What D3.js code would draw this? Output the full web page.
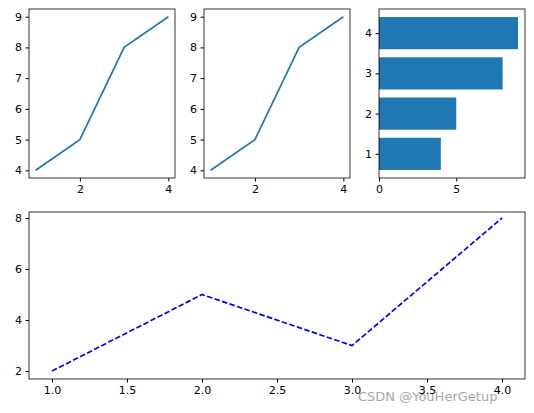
<!DOCTYPE html>
<html><head><meta charset="utf-8">
<script src="https://cdn.jsdelivr.net/npm/d3@7"></script>
<style>body{margin:0;background:#fff}text{font-family:"DejaVu Sans",sans-serif}</style>
</head><body>
<svg id="chart" width="534" height="413"></svg>
<script>
const lineX = [1, 2, 3, 4];
const lineY = [4, 5, 8, 9];
const barCats = [1, 2, 3, 4];
const barVals = [4, 5, 8, 9];
const bottomX = [1, 2, 3, 4];
const bottomY = [2, 5, 3, 8];

const svg = d3.select("#chart");

function frame(g, w, h) {
    g.append("rect").attr("width", w).attr("height", h)
        .attr("fill", "none").attr("stroke", "#000").attr("stroke-width", 0.8);
}

function axes(g, x, y, h, xt, yt, xf, yf) {
    const xa = g.append("g").attr("transform", `translate(0,${h})`)
        .call(d3.axisBottom(x).tickValues(xt).tickSize(3.5).tickPadding(3.5).tickFormat(xf));
    const ya = g.append("g").call(d3.axisLeft(y).tickValues(yt).tickSize(3.5).tickPadding(3.5).tickFormat(yf));
    [xa, ya].forEach(a => {
        a.select(".domain").remove();
        a.selectAll("text").attr("font-size", 11).attr("fill", "#000");
    });
}

// top-left and top-middle line plots
[29, 204].forEach(left => {
    const w = 146, h = 169;
    const g = svg.append("g").attr("transform", `translate(${left},9)`);
    const x = d3.scaleLinear().domain([0.85, 4.15]).range([0, w]);
    const y = d3.scaleLinear().domain([3.75, 9.25]).range([h, 0]);
    g.append("path").datum(lineX.map((d, i) => [d, lineY[i]]))
        .attr("fill", "none").attr("stroke", "#1f77b4").attr("stroke-width", 1.7)
        .attr("d", d3.line().x(d => x(d[0])).y(d => y(d[1])));
    axes(g, x, y, h, [2, 4], [4, 5, 6, 7, 8, 9], d3.format("d"), d3.format("d"));
    frame(g, w, h);
});

// top-right bars
{
    const w = 146, h = 169;
    const g = svg.append("g").attr("transform", "translate(379,9)");
    const x = d3.scaleLinear().domain([0, 9.45]).range([0, w]);
    const y = d3.scaleLinear().domain([0.4, 4.6]).range([h, 0]);
    g.selectAll("rect.bar").data(barCats).join("rect").attr("class", "bar")
        .attr("x", x(0)).attr("y", d => y(d + 0.4))
        .attr("width", (d, i) => x(barVals[i]) - x(0))
        .attr("height", y(0.6) - y(1.4)).attr("fill", "#1f77b4");
    axes(g, x, y, h, [0, 5], [1, 2, 3, 4], d3.format("d"), d3.format("d"));
    frame(g, w, h);
}

// bottom dashed line
{
    const w = 496, h = 167;
    const g = svg.append("g").attr("transform", "translate(29,212)");
    const x = d3.scaleLinear().domain([0.847, 4.153]).range([0, w]);
    const y = d3.scaleLinear().domain([1.69, 8.235]).range([h, 0]);
    g.append("path").datum(bottomX.map((d, i) => [d, bottomY[i]]))
        .attr("fill", "none").attr("stroke", "blue").attr("stroke-width", 1.7)
        .attr("stroke-dasharray", "5.5,2.4")
        .attr("d", d3.line().x(d => x(d[0])).y(d => y(d[1])));
    axes(g, x, y, h, [1, 1.5, 2, 2.5, 3, 3.5, 4], [2, 4, 6, 8], d3.format(".1f"), d3.format("d"));
    frame(g, w, h);
}

svg.append("text").attr("x", 358).attr("y", 401).attr("font-size", 13)
    .attr("fill", "#999").attr("opacity", 0.85).text("CSDN @YouHerGetup");
</script>
</body></html>
